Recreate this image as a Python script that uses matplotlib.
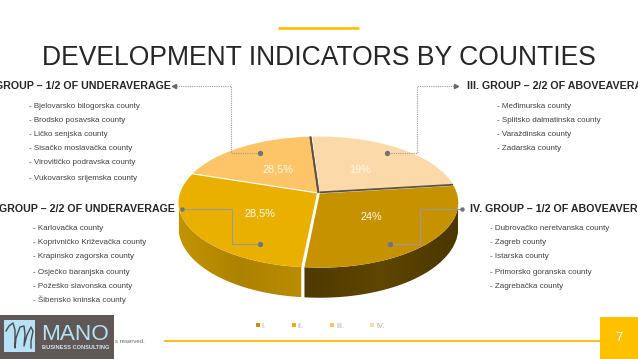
import numpy as np
import matplotlib
matplotlib.use("Agg")
import matplotlib.pyplot as plt
from matplotlib.transforms import Transform
from matplotlib.colors import LinearSegmentedColormap
from matplotlib.patches import Rectangle, Polygon

plt.rcParams['font.family'] = ['Liberation Sans', 'DejaVu Sans']

# ---- data ----
categories = ['I.', 'II.', 'III.', 'IV.']
drawn_shares = [28.5, 28.5, 19, 24]
printed_labels = ['24%', '28,5%', '28,5%', '19%']
slice_colors = ['#C69200', '#EAB000', '#FDC568', '#FCD9A9']
title = 'DEVELOPMENT INDICATORS BY COUNTIES'
group_titles = ['I. GROUP – 1/2 OF UNDERAVERAGE', 'II. GROUP – 2/2 OF UNDERAVERAGE',
                'III. GROUP – 2/2 OF ABOVEAVERAGE', 'IV. GROUP – 1/2 OF ABOVEAVERAGE']
group1 = ['Bjelovarsko bilogorska county', 'Brodsko posavska county', 'Ličko senjska county',
          'Sisačko moslavačka county', 'Virovitičko podravska county', 'Vukovarsko srijemska county']
group2 = ['Karlovačka county', 'Koprivničko Križevačka county', 'Krapinsko zagorska county',
          'Osječko baranjska county', 'Požeško slavonska county', 'Šibensko kninska county']
group3 = ['Međimurska county', 'Splitsko dalmatinska county', 'Varaždinska county', 'Zadarska county']
group4 = ['Dubrovačko neretvanska county', 'Zagreb county', 'Istarska county',
          'Primorsko goranska county', 'Zagrebačka county']

W, H = 638, 359
fig = plt.figure(figsize=(W / 100, H / 100), dpi=100, facecolor='white')
ax = fig.add_axes([0, 0, 1, 1])

# perspective of the pie disc, in figure pixels
CX, CY, A, B, K = 318.5, 193.0, 137.0, 63.7, 0.138


def project(uv):
    uv = np.asarray(uv, float)
    w = 1 + K * uv[:, 1]
    return np.column_stack([CX + A * uv[:, 0] / w, CY - B * uv[:, 1] / w])


class Persp(Transform):
    input_dims = output_dims = 2
    has_inverse = False

    def transform_non_affine(self, values):
        return project(values)


wedges, _ = ax.pie(drawn_shares, colors=slice_colors, startangle=7, counterclock=False,
                   explode=[0.013] * 4, wedgeprops=dict(linewidth=0))
persp = Persp() + ax.transData
for w in wedges:
    w.set_transform(persp)
    w.set_zorder(3)


def arc(w, t0, t1, n=90):
    t = np.radians(np.linspace(t0, t1, n))
    return np.column_stack([w.center[0] + np.cos(t), w.center[1] + np.sin(t)])


side_maps = [['#4E3900', '#5F4600', '#4A3600'], ['#C39300', '#AD8200', '#BA8C00']]
side_ranges = [(wedges[0].theta1, -8), (-172, wedges[1].theta2)]
for w, cols, (t0, t1) in zip(wedges[:2], side_maps, side_ranges):
    rim = arc(w, t0, t1)
    top = project(rim)
    depth = 24 - 6 * rim[:, 1]
    low = top + np.column_stack([np.zeros(len(top)), depth])
    poly = np.vstack([top, low[::-1]])
    x0, x1 = poly[:, 0].min(), poly[:, 0].max()
    y0, y1 = poly[:, 1].min(), poly[:, 1].max()
    im = ax.imshow(np.linspace(0, 1, 128)[None, :], extent=(x0, x1, y1, y0), aspect='auto',
                   cmap=LinearSegmentedColormap.from_list('s', cols), zorder=2)
    im.set_clip_path(Polygon(poly, closed=True, transform=ax.transData))

# dark inner walls visible between the upper slices
for w, th in [(wedges[3], wedges[3].theta2), (wedges[2], wedges[2].theta1), (wedges[3], wedges[3].theta1)]:
    t = np.radians(th)
    ends = np.array([[w.center[0], w.center[1]], [w.center[0] + np.cos(t), w.center[1] + np.sin(t)]])
    if th == wedges[2].theta1:
        ends = np.array([[0, 0], [wedges[2].center[0] + np.cos(t), wedges[2].center[1] + np.sin(t)]])
    p = project(ends)
    ax.plot(p[:, 0], p[:, 1], color='#5C5244', lw=1.3, zorder=4, solid_capstyle='butt')

# printed values
label_xy = [(371, 217), (260, 213), (278, 170), (360, 170)]
for s, (x, y) in zip(printed_labels, label_xy):
    ax.text(x, y, s, color='#FFF8EC', fontsize=7.8, ha='center', va='center', zorder=6)

ax.set_aspect('auto')
ax.set_xlim(0, W)
ax.set_ylim(H, 0)
ax.set_frame_on(False)
ax.set_xticks([])
ax.set_yticks([])

# title and accent bars
ax.text(319, 58, title, fontsize=19.1, color='#262626', ha='center', va='center')
ax.plot([278, 359], [27.5, 27.5], color='#FFC000', lw=1.9, solid_capstyle='butt')
ax.plot([164, 600], [341, 341], color='#FFB900', lw=1.3, solid_capstyle='butt')
ax.add_patch(Rectangle((600, 317), 38, 42, color='#FFC000', lw=0))
ax.text(619, 338, '7', color='white', fontsize=9.5, ha='center', va='center')

# group headings
hd = dict(fontsize=7.7, fontweight='bold', color='#262626', va='center')
ax.text(171, 86, group_titles[0], ha='right', **hd)
ax.text(175, 209, group_titles[1], ha='right', **hd)
ax.text(467, 86, group_titles[2], ha='left', **hd)
ax.text(470, 209.5, group_titles[3], ha='left', **hd)

# county lists
lists = [(group1, 29, [106, 120, 134, 149, 163, 178]),
         (group2, 33, [228, 243, 257, 272, 286, 300]),
         (group3, 497, [106, 120, 134, 149]),
         (group4, 490, [228, 243, 257, 272, 286])]
for names, x, ys in lists:
    for n, y in zip(names, ys):
        ax.text(x, y, '- ' + n, fontsize=5.75, color='#404040', ha='left', va='center')

# call-out leaders
grey = '#9A9A9A'
for xs, ys, ls in [([176, 231, 231, 260], [86, 86, 153, 153], (0, (1, 1))),
                   ([454, 417, 417, 387], [86, 86, 153, 153], (0, (1, 1))),
                   ([182, 232, 232, 260], [209, 209, 244, 244], '-'),
                   ([462, 420, 420, 390], [209, 209, 244, 244], '-')]:
    ax.plot(xs, ys, color=grey, lw=0.8, ls=ls, zorder=5)
    ax.plot(xs[-1], ys[-1], 'o', color='#6E7480', ms=2.8, zorder=5)
ax.plot([174], [86], marker='<', color='#666666', ms=3, zorder=5)
ax.plot([456], [86], marker='>', color='#666666', ms=3, zorder=5)
ax.plot([182, 462], [209, 209], 'o', color='#6E7480', ms=2.2, zorder=5)

# legend
leg = ax.legend(wedges, categories, ncol=4, loc='center', bbox_to_anchor=(320 / W, 1 - 326 / H),
                frameon=False, fontsize=5.2, labelcolor='#A6A6A6', handlelength=0.55, handleheight=0.55,
                handletextpad=0.3, columnspacing=3.6)

# footer and logo
ax.text(115, 341.5, 's reserved.', fontsize=4.3, color='#666666', ha='left', va='center')
ax.add_patch(Rectangle((0, 315), 114, 44, color='#5F5857', lw=0, zorder=7))
ax.add_patch(Rectangle((3.5, 320), 31.5, 32, color='#B6E1F6', lw=0, zorder=8))
ax.plot([6, 9, 13, 15, 15, 16, 20, 24, 25, 24, 27, 31, 33, 31, 31],
        [331, 326, 323, 330, 348, 338, 327, 326, 334, 346, 335, 327, 331, 341, 348],
        color='#4A4A4A', lw=1.0, zorder=9)
ax.text(75, 334.5, 'MANO', fontsize=16.2, color='#B6E1F6', ha='center', va='center', zorder=9)
ax.text(76, 347.5, 'BUSINESS CONSULTING', fontsize=4.1, fontweight='bold', color='#D5E6EF',
        ha='center', va='center', zorder=9)

fig.savefig('out.png', dpi=100)
